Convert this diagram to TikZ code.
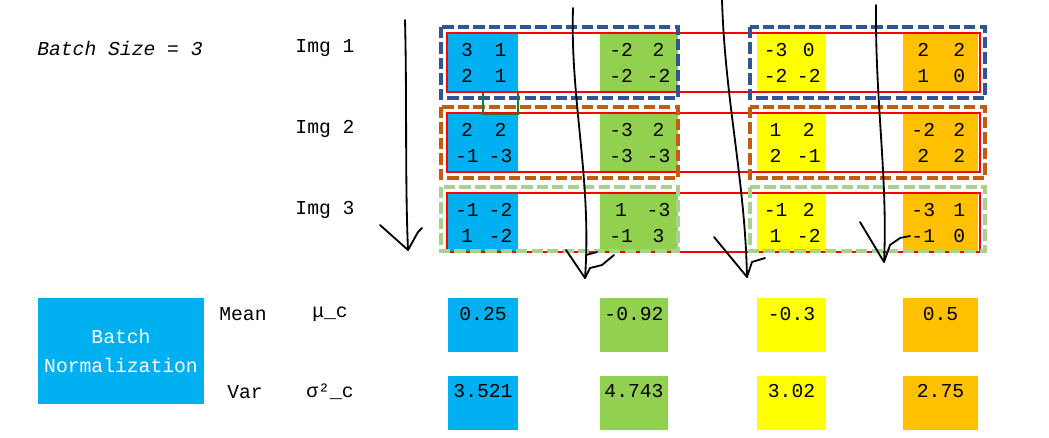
\documentclass[tikz,border=0pt]{standalone}
\usepackage{fontspec}
\setmonofont{Liberation Mono}
\usetikzlibrary{arrows.meta}
\definecolor{bnblue}{HTML}{00B0F0}
\definecolor{bngreen}{HTML}{92D050}
\definecolor{bnyellow}{HTML}{FFFF00}
\definecolor{bnorange}{HTML}{FFC000}
\definecolor{dashblue}{HTML}{2F5597}
\definecolor{dashorange}{HTML}{C55A11}
\definecolor{dashgreen}{HTML}{A9D18E}
\tikzset{
  txt/.style={font=\ttfamily\fontsize{14}{16}\selectfont, inner sep=0pt},
  num/.style={txt, anchor=base},
  imgbox/.style={draw=red, line width=1.2pt},
  grp/.style={line width=2.6pt, dash pattern=on 8pt off 3pt},
  hand/.style={line width=1.3pt, line cap=round, line join=round}
}
\begin{document}
\begin{tikzpicture}[x=0.025cm, y=-0.025cm]
  \useasboundingbox (0,0) rectangle (1049,437);

  % labels
  \node[txt, font=\ttfamily\itshape\fontsize{14}{16}\selectfont] (bsize) at (120,48) {Batch Size = 3};
  \node[txt] (img1) at (325,48) {Img 1};
  \node[txt] (img2) at (325,129) {Img 2};
  \node[txt] (img3) at (325,210) {Img 3};

  % channel cells
  \foreach \y in {34,114,194}
    \foreach \xa/\xb/\col in {448/518/bnblue, 600/678/bngreen, 757/826/bnyellow, 903/978/bnorange}
      \fill[\col] (\xa,\y) rectangle (\xb,\y+57);

  % channel values
  \foreach \y/\xa/\xb/\a/\b/\c/\d in {
      34/448/518/3/1/2/1, 34/600/678/-2/2/-2/-2, 34/757/826/-3/0/-2/-2, 34/903/978/2/2/1/0,
      114/448/518/2/2/-1/-3, 114/600/678/-3/2/-3/-3, 114/757/826/1/2/2/-1, 114/903/978/-2/2/2/2,
      194/448/518/-1/-2/1/-2, 194/600/678/1/-3/-1/3, 194/757/826/-1/2/1/-2, 194/903/978/-3/1/-1/0} {
    \node[num] at ({\xa+(\xb-\xa)*0.27},\y+22) {\a};
    \node[num] at ({\xa+(\xb-\xa)*0.75},\y+22) {\b};
    \node[num] at ({\xa+(\xb-\xa)*0.27},\y+48) {\c};
    \node[num] at ({\xa+(\xb-\xa)*0.75},\y+48) {\d};
  }
  \foreach \y in {34,114,194}
    \draw[imgbox] (447,\y-1) rectangle (980,\y+58);

  % group boxes
  \draw[grp, dashblue] (441,27) rectangle (678,98);
  \draw[grp, dashblue] (750,27) rectangle (985,98);
  \draw[grp, dashorange] (441,107) rectangle (678,178);
  \draw[grp, dashorange] (750,107) rectangle (985,178);
  \draw[grp, dashgreen] (441,187) rectangle (678,251);
  \draw[grp, dashgreen] (750,187) rectangle (985,251);
  \draw[line width=1pt, color=dashblue!40!green!70!black] (483,93) -- (483,114) -- (518,114) -- (518,93);

  % hand-drawn arrows
  \draw[hand] (405,20) .. controls (407,100) and (405,180) .. (408,250);
  \draw[hand] (380,225) -- (408,250) -- (418,232) -- (422,228);
  \draw[hand] (573,8) .. controls (570,100) and (592,180) .. (585,278);
  \draw[hand] (566,250) -- (585,278) -- (590,268) -- (602,265) -- (614,255);
  \draw[hand] (586,255) -- (597,252);
  \draw[hand] (722,0) .. controls (725,100) and (745,180) .. (747,277);
  \draw[hand] (714,237) -- (747,277) -- (752,262) -- (765,258);
  \draw[hand] (876,5) .. controls (875,100) and (888,180) .. (884,262);
  \draw[hand] (860,222) -- (884,262) -- (890,245) -- (900,238) -- (910,236);

  % batch normalization statistics
  \fill[bnblue] (38,298) rectangle (204,404);
  \node[txt, align=center, color=white] (bn) at (121,351) {Batch\\[4pt]Normalization};
  \node[txt] (mean) at (243,314) {Mean};
  \node[txt] (mu) at (330,314) {μ\_c};
  \node[txt] (var) at (245,392) {Var};
  \node[txt] (sigma) at (330,392) {σ²\_c};
  \foreach \xa/\xb/\col/\m/\s in {448/518/bnblue/0.25/3.521, 600/668/bngreen/-0.92/4.743,
      757/826/bnyellow/-0.3/3.02, 903/978/bnorange/0.5/2.75} {
    \fill[\col] (\xa,298) rectangle (\xb,352);
    \fill[\col] (\xa,376) rectangle (\xb,430);
    \node[txt] at ({(\xa+\xb)/2},314) {\m};
    \node[txt] at ({(\xa+\xb)/2},391) {\s};
  }
\end{tikzpicture}
\end{document}
